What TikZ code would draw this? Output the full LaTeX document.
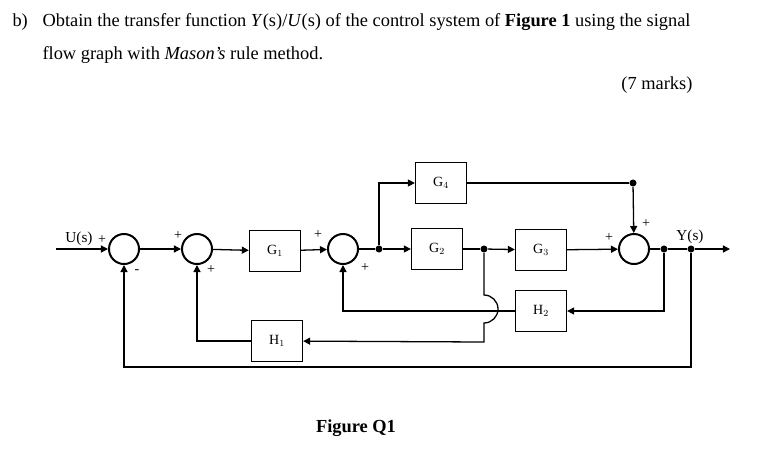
\documentclass[tikz,border=0pt]{standalone}
\usepackage{fontspec}
\setmainfont{Liberation Serif}
\usetikzlibrary{arrows.meta}
\begin{document}
\begin{tikzpicture}[x=0.03cm,y=-0.03cm,>={Triangle[length=6pt,width=6pt]},
  line width=1.1pt,
  sum/.style={circle,draw,line width=1.7pt,minimum size=0.9cm,inner sep=0pt},
  blk/.style={draw,minimum width=1.53cm,minimum height=1.23cm,inner sep=0pt,font=\fontsize{12}{14}\selectfont},
  dot/.style={circle,fill,inner sep=0pt,minimum size=6pt},
  sgn/.style={font=\fontsize{12}{14}\selectfont,inner sep=0pt},
  txt/.style={font=\fontsize{15.7}{18}\selectfont}]
\useasboundingbox (0,0) rectangle (762,466);
% text
\node[anchor=west,txt] at (8,22) {b)\hspace{0.8em}Obtain the transfer function \textit{Y}(s)/\textit{U}(s) of the control system of \textbf{Figure 1} using the signal};
\node[anchor=west,txt] at (38,55) {flow graph with \textit{Mason's} rule method.};
\node[anchor=east,txt] at (697,85) {(7 marks)};
\node[font=\fontsize{15.7}{18}\selectfont\bfseries] at (356,428) {Figure Q1};
% blocks
\node[sum] (s1) at (124,249) {};
\node[sum] (s2) at (197,249) {};
\node[sum] (s3) at (343,249) {};
\node[sum] (s4) at (634,249) {};
\node[blk] (g1) at (275,251) {G$_1$};
\node[blk] (g2) at (437,249) {G$_2$};
\node[blk] (g3) at (541,250) {G$_3$};
\node[blk] (g4) at (441,183) {G$_4$};
\node[blk] (h1) at (277,341) {H$_1$};
\node[blk] (h2) at (541,311) {H$_2$};
\node[dot] (d1) at (379,249) {};
\node[dot] (d2) at (484,249) {};
\node[dot] (d3) at (633,183) {};
\node[dot] (d4) at (664,249) {};
\node[dot] (d5) at (691,249) {};
\coordinate (in) at (56,249);
\coordinate (out) at (730,249);
% signals
\draw[->] (in) -- (s1);
\draw[->] (s1) -- (s2);
\draw[->] (s2) -- (g1);
\draw[->] (g1) -- (s3);
\draw (s3) -- (d1);
\draw[->] (d1) -- (g2);
\draw[->] (d1) |- (g4);
\draw (g4) -- (d3);
\draw[->] (d3) -- (s4);
\draw (g2) -- (d2);
\draw[->] (d2) -- (g3);
\draw[->] (g3) -- (s4);
\draw (s4) -- (d4);
\draw (d4) -- (d5);
\draw[->] (d5) -- (out);
\draw[->] (d4) |- (h2);
\draw[->] (h2) -| (s3);
\draw[->] (d2) -- (484,295) arc[start angle=-90,end angle=90,radius=14] -- (484,342) -- (h1);
\draw[->] (h1) -| (s2);
\draw[->] (d5) |- (124,367) -- (s1);
% labels
\node[font=\fontsize{13}{15}\selectfont] at (79,239) {U(s)};
\node[font=\fontsize{13}{15}\selectfont] at (690,237) {Y(s)};
\node[sgn] at (102,240) {+};
\node[sgn] at (137,272) {-};
\node[sgn] at (178,236) {+};
\node[sgn] at (211,270) {+};
\node[sgn] at (318,235) {+};
\node[sgn] at (365,268) {+};
\node[sgn] at (609,238) {+};
\node[sgn] at (646,224) {+};
\end{tikzpicture}
\end{document}
